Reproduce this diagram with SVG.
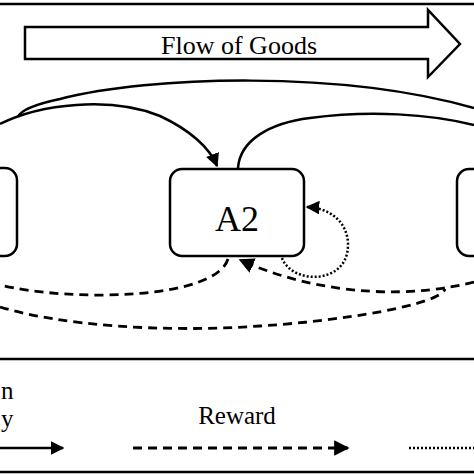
<svg xmlns="http://www.w3.org/2000/svg" width="474" height="474" viewBox="0 0 474 474">
<style>
.t{font-family:"Liberation Serif","Times New Roman",serif;fill:#000}
.ln{fill:none;stroke:#000;stroke-width:2.5}
.sol{fill:none;stroke:#000;stroke-width:2.5}
.dsh{fill:none;stroke:#000;stroke-width:2.8;stroke-dasharray:9 6}
.dot{fill:none;stroke:#000;stroke-width:2.5;stroke-dasharray:2 2}
.box{fill:#fff;stroke:#000;stroke-width:2.5}
</style>
<defs>
<marker id="ah" viewBox="0 0 10 10" refX="9" refY="5" markerWidth="5.5" markerHeight="5.5" orient="auto" markerUnits="strokeWidth">
<path d="M0,0 L10,5 L0,10 z" fill="#000"/>
</marker>
</defs>
<rect width="474" height="474" fill="#fff"/>
<g id="frame">
<line x1="0" y1="4" x2="474" y2="4" class="ln"/>
<line x1="0" y1="359" x2="474" y2="359" class="ln"/>
<line x1="0" y1="472" x2="474" y2="472" class="ln"/>
</g>
<g id="flow-arrow">
<path d="M25,27 L428,27 L428,10 L460,44 L428,77 L428,59 L25,59 Z" fill="#fff" stroke="#000" stroke-width="2.5" stroke-linejoin="miter"/>
<text x="239" y="54" text-anchor="middle" class="t" font-size="26">Flow of Goods</text>
</g>
<g id="connectors">
<path class="sol" d="M18,117 Q22,107 60,99 C150,76 340,70 474,108"/>
<path class="sol" d="M0,124 C40,104 110,96 160,116 C190,130 210,148 217,166" marker-end="url(#ah)"/>
<path class="sol" d="M238,168 C240,140 270,123 310,118 C370,110 430,114 474,125"/>
<path class="dsh" d="M228,259 C215,300 70,302 0,285"/>
<path class="dsh" d="M474,282 C420,296 330,300 240,260" marker-end="url(#ah)"/>
<path class="dsh" d="M0,307 C60,325 160,333 260,326 C340,321 440,305 445,289"/>
<path class="dot" d="M282,258 C292,285 348,285 348,245 C348,222 330,208 307,207" marker-end="url(#ah)"/>
</g>
<g id="A1">
<rect x="-40" y="168" width="57" height="88" rx="12" class="box"/>
</g>
<g id="A2">
<rect x="170" y="169" width="134" height="87" rx="12" class="box"/>
<text x="237" y="231" text-anchor="middle" class="t" font-size="36">A2</text>
</g>
<g id="A3">
<rect x="457" y="169" width="60" height="87" rx="12" class="box"/>
</g>
<g id="legend">
<text x="1" y="399" class="t" font-size="25">n</text>
<text x="1" y="427" class="t" font-size="25">y</text>
<line x1="0" y1="448" x2="63" y2="448" class="sol" marker-end="url(#ah)"/>
<text x="237" y="424" text-anchor="middle" class="t" font-size="25">Reward</text>
<line x1="133" y1="448" x2="348" y2="448" class="dsh" marker-end="url(#ah)"/>
<line x1="409" y1="448" x2="474" y2="448" class="dot" stroke-width="2"/>
</g>
</svg>
